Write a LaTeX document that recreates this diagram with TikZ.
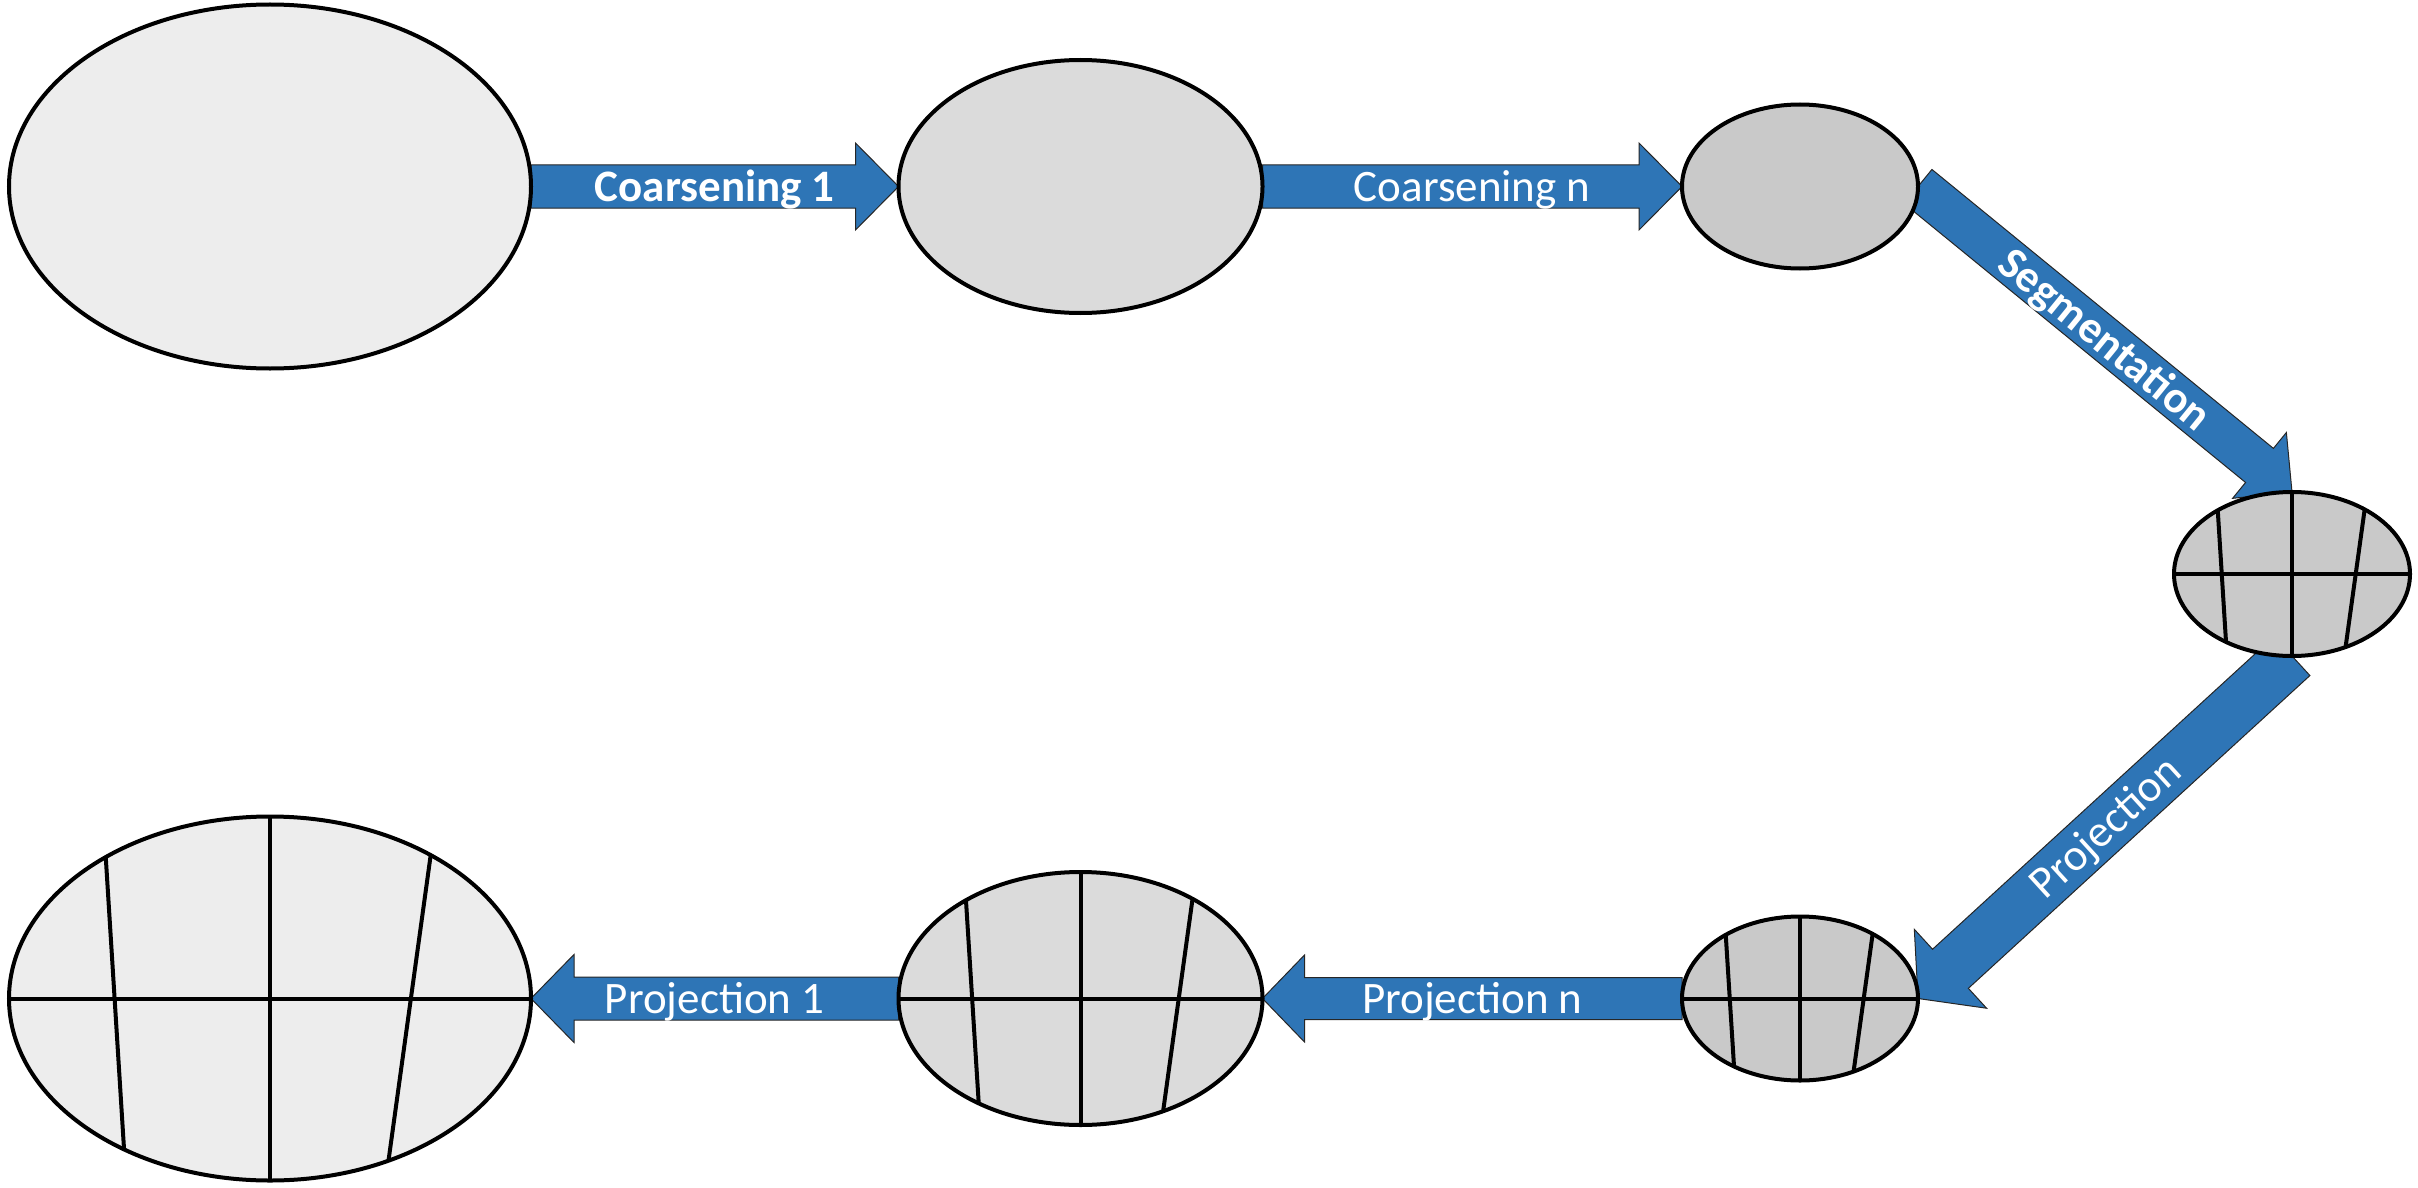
\documentclass[tikz,border=0pt]{standalone}
\usepackage{fontspec}
\setmainfont{Carlito}
\usetikzlibrary{shapes.geometric,calc}
\pgfdeclarelayer{bg}
\pgfsetlayers{bg,main}
\definecolor{arrowblue}{HTML}{2E75B6}
\definecolor{fillA}{HTML}{EDEDED}
\definecolor{fillB}{HTML}{DBDBDB}
\definecolor{fillC}{HTML}{C9C9C9}
% block arrow: #1 start, #2 tip, #3 half shaft width, #4 half head width, #5 head length
\newcommand{\blkarrow}[5]{%
  \path ($(#2)!#5!(#1)$) coordinate (hb);
  \filldraw[barrow] ($(#1)!#3!90:(#2)$) -- ($(hb)!#3!-90:(#1)$) -- ($(hb)!#4!-90:(#1)$) -- (#2)
    -- ($(hb)!#4!90:(#1)$) -- ($(hb)!#3!90:(#1)$) -- ($(#1)!#3!-90:(#2)$) -- cycle;}
% grid lines inside a segmented ellipse: #1 node, #2 rx, #3 ry
\newcommand{\gridlines}[3]{%
  \draw[segline] (#1.west) -- (#1.east);
  \draw[segline] (#1.north) -- (#1.south);
  \draw[segline] ($(#1.center)+({#2*cos(129)},{-#3*sin(129)})$) -- ($(#1.center)+({#2*cos(236)},{-#3*sin(236)})$);
  \draw[segline] ($(#1.center)+({#2*cos(52)},{-#3*sin(52)})$) -- ($(#1.center)+({#2*cos(297)},{-#3*sin(297)})$);}
\begin{document}
\begin{tikzpicture}[x=1pt,y=-1pt,
  blob/.style={ellipse, draw=black, line width=4pt, inner sep=0pt, outer sep=0pt},
  big/.style={minimum width=522pt, minimum height=364pt},
  mid/.style={minimum width=364pt, minimum height=253pt},
  small/.style={minimum width=236pt, minimum height=164pt},
  barrow/.style={fill=arrowblue, draw=black!85, line width=1pt, line join=miter},
  lbl/.style={text=white, font=\fontsize{45}{54}\selectfont, inner sep=0pt, text height=29pt, text depth=0pt},
  lblb/.style={lbl, font=\fontsize{45}{54}\selectfont\bfseries},
  segline/.style={draw=black, line width=4pt}]
\useasboundingbox (0,0) rectangle (2418,1188);
% ellipses
\node[blob, big, fill=fillA] (A) at (270,186.5) {};
\node[blob, mid, fill=fillB] (B) at (1080.5,186.5) {};
\node[blob, small, fill=fillC] (C) at (1800,186.5) {};
\node[blob, small, fill=fillC] (D) at (2292,574) {};
\node[blob, small, fill=fillC] (E) at (1800,998.5) {};
\node[blob, mid, fill=fillB] (F) at (1080.5,998.5) {};
\node[blob, big, fill=fillA] (G) at (270,998.5) {};
\gridlines{D}{118}{82}
\gridlines{E}{118}{82}
\gridlines{F}{182}{126.5}
\gridlines{G}{261}{182}
% arrows
\begin{pgfonlayer}{bg}
\blkarrow{A.east}{B.west}{21.5pt}{43.5pt}{43pt}
\blkarrow{B.east}{C.west}{21.5pt}{43.5pt}{43pt}
\blkarrow{C.east}{D.north}{22pt}{42.5pt}{42pt}
\blkarrow{D.south}{E.east}{26.5pt}{53.5pt}{44pt}
\blkarrow{E.west}{F.east}{21pt}{43.5pt}{42pt}
\blkarrow{F.west}{G.east}{21.5pt}{44pt}{43pt}
\end{pgfonlayer}
% labels
\node[lblb] (l1) at ($(A.east)!0.5!(B.west)$) {Coarsening 1};
\node[lbl] (l2) at ($(B.east)!0.5!(C.west)$) {Coarsening n};
\node[lblb, rotate=-39.2] (l3) at ($(C.east)!0.5!(D.north)$) {Segmentation};
\node[lbl, rotate=42.4] (l4) at ($(D.south)!0.5!(E.east)$) {Projection};
\node[lbl] (l5) at ($(E.west)!0.5!(F.east)$) {Projection n};
\node[lbl] (l6) at ($(F.west)!0.5!(G.east)$) {Projection 1};
\end{tikzpicture}
\end{document}
